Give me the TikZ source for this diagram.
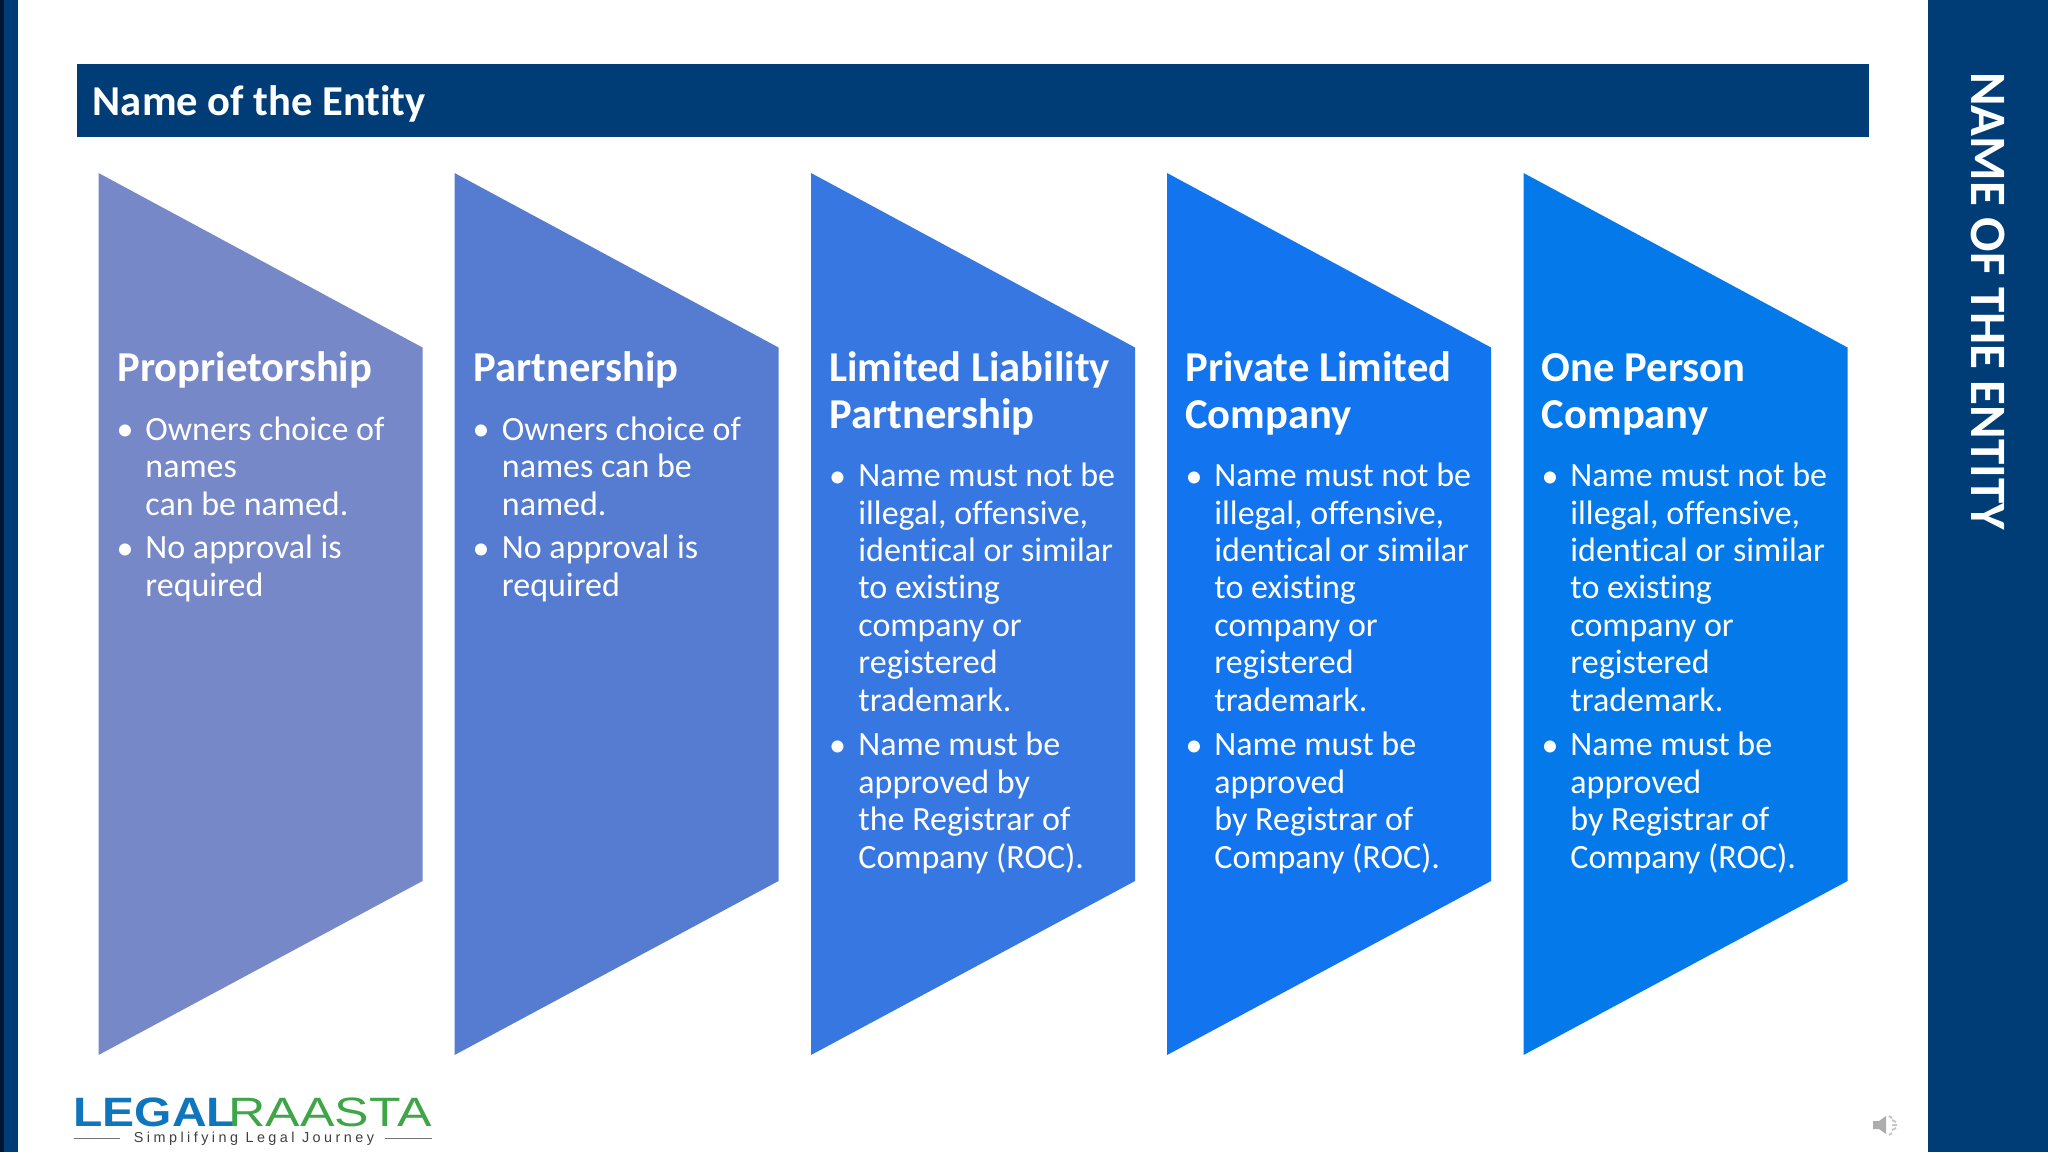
\documentclass[tikz,border=0pt]{standalone}
\usepackage{fontspec}
\setmainfont{Carlito}[RawFeature={-liga,-clig,-dlig}]
\newfontfamily\logofont{Liberation Sans}
\newfontfamily\tagfont[LetterSpace=24]{Liberation Sans}
\definecolor{navy}{HTML}{003C76}
\definecolor{navydark}{HTML}{00152F}
\definecolor{cardA}{HTML}{7688C7}
\definecolor{cardB}{HTML}{557CD1}
\definecolor{cardC}{HTML}{3777E2}
\definecolor{cardD}{HTML}{1274EE}
\definecolor{cardE}{HTML}{0479EA}
\definecolor{logoblue}{HTML}{0F75BC}
\definecolor{logogreen}{HTML}{3FA648}
\tikzset{
  x=0.5pt,y=-0.5pt,
  head/.style={anchor=base west,inner sep=0pt,text=white,font=\fontsize{21.3}{23.4}\selectfont\bfseries,align=left},
  body/.style={anchor=base west,inner sep=0pt,text=white,font=\fontsize{17}{18.7}\selectfont,align=left},
  bul/.style={anchor=base,inner sep=0pt,text=white,font=\fontsize{17}{18.7}\selectfont},
}
\newcommand{\card}[2]{%
  \fill[#2] (#1,173) -- (#1+324,347.5) -- (#1+324,881) -- (#1,1055) -- cycle;
}
\begin{document}
\begin{tikzpicture}
\useasboundingbox (0,0) rectangle (2048,1152);
\fill[white] (0,0) rectangle (2048,1152);
% side bands
\fill[navy] (0,0) rectangle (17.5,1152);
\fill[navydark] (0,0) rectangle (3.5,1152);
\fill[navy] (1928,0) rectangle (2048,1152);
\node[anchor=base,rotate=-90,inner sep=0pt,text=white,font=\fontsize{25.5}{28}\selectfont\bfseries] (sidetitle) at (1971,301) {NAME OF THE ENTITY};
% title bar
\fill[navy] (76.5,64) rectangle (1869,136.5);
\node[anchor=base west,inner sep=0pt,text=white,font=\fontsize{21.3}{24}\selectfont\bfseries] (title) at (92.5,115) {Name of the Entity};
% cards
\card{98.5}{cardA}
\card{454.5}{cardB}
\card{811}{cardC}
\card{1167}{cardD}
\card{1523.5}{cardE}
% card 1
\node[head] (h1) at (117,381.5) {Proprietorship};
\node[bul] (b1a) at (125,440) {•};
\node[body] (t1l) at (145,515) {Owners choice of\\names\\can be named.};
\node[bul] (b1b) at (125,559) {•};
\node[body] (t1m) at (145,596) {No approval is\\required};
% card 2
\node[head] (h2) at (473,381.5) {Partnership};
\node[bul] (b2a) at (481,440) {•};
\node[body] (t2l) at (501.5,515) {Owners choice of\\names can be\\named.};
\node[bul] (b2b) at (481,559) {•};
\node[body] (t2m) at (501.5,596) {No approval is\\required};
% card 3
\node[head] (h3) at (829,428) {Limited Liability\\Partnership};
\node[bul] (b3a) at (837.5,487) {•};
\node[body] (t3l) at (858,711) {Name must not be\\illegal, offensive,\\identical or similar\\to existing\\company or\\registered\\trademark.};
\node[bul] (b3b) at (837.5,756) {•};
\node[body] (t3m) at (858,868) {Name must be\\approved by\\the Registrar of\\Company (ROC).};
% card 4
\node[head] (h4) at (1185,428) {Private Limited\\Company};
\node[bul] (b4a) at (1194,487) {•};
\node[body] (t4l) at (1214,711) {Name must not be\\illegal, offensive,\\identical or similar\\to existing\\company or\\registered\\trademark.};
\node[bul] (b4b) at (1194,756) {•};
\node[body] (t4m) at (1214,868) {Name must be\\approved\\by Registrar of\\Company (ROC).};
% card 5
\node[head] (h5) at (1541.5,428) {One Person\\Company};
\node[bul] (b5a) at (1550,487) {•};
\node[body] (t5l) at (1570,711) {Name must not be\\illegal, offensive,\\identical or similar\\to existing\\company or\\registered\\trademark.};
\node[bul] (b5b) at (1550,756) {•};
\node[body] (t5m) at (1570,868) {Name must be\\approved\\by Registrar of\\Company (ROC).};
% logo
\node[anchor=base west,inner sep=0pt,text=logoblue,font=\logofont\bfseries\fontsize{20.5}{22}\selectfont,xscale=1.17] (logoa) at (73,1126) {LEGAL};
\node[anchor=base east,inner sep=0pt,text=logogreen,font=\logofont\fontsize{20.5}{22}\selectfont,xscale=1.26] (logob) at (432,1126) {RAASTA};
\node[anchor=base,inner sep=0pt,text=black!75,font=\tagfont\fontsize{7.2}{8}\selectfont] (tag) at (254,1142) {Simplifying Legal Journey};
\coordinate (la) at (74,1138);
\coordinate (lb) at (120,1138);
\coordinate (lc) at (385,1138);
\coordinate (ld) at (432,1138);
\draw[black!55,line width=0.5pt] (la) -- (lb);
\draw[black!55,line width=0.5pt] (lc) -- (ld);
% speaker
\fill[black!32] (1873,1121) -- (1879,1121) -- (1886,1116) -- (1886,1134) -- (1879,1129) -- (1873,1129) -- cycle;
\draw[black!22,line width=1pt]
  (1889,1116) -- (1892,1118)
  (1892,1120) -- (1896,1122)
  (1892,1125) -- (1897,1125)
  (1892,1130) -- (1896,1128)
  (1889,1135) -- (1892,1133);
\end{tikzpicture}
\end{document}
